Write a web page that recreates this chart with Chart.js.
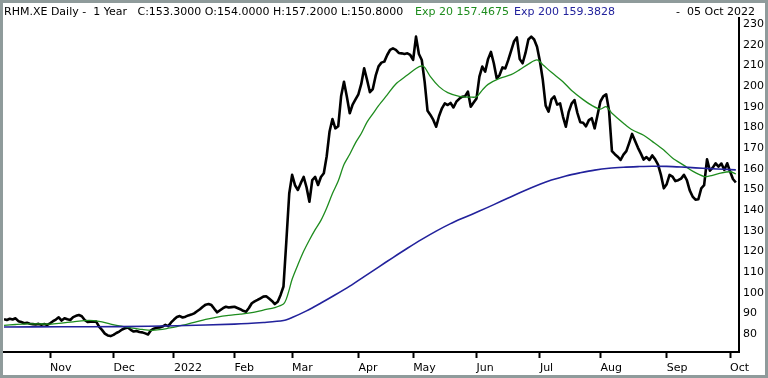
<!DOCTYPE html>
<html>
<head>
<meta charset="utf-8">
<script src="https://cdn.jsdelivr.net/npm/chart.js@4.4.0/dist/chart.umd.min.js"></script>
<style>
  html, body { margin: 0; padding: 0; background: #fff; }
</style>
</head>
<body>
<canvas id="chart" width="768" height="378"></canvas>
<script>
// daily closes, one per trading day (index 0 = first day shown)
const closes = [
  87.2, 86.8, 87.4, 87.0, 87.6, 86.2, 85.8, 85.2, 85.4, 85.0,
  84.8, 84.6, 84.9, 84.5, 84.8, 84.4, 85.2, 86.2, 87.0, 88.1,
  86.5, 87.6, 87.1, 86.8, 88.2, 88.8, 89.2, 88.6, 86.8, 85.8,
  86.0, 85.9, 86.0, 83.6, 82.0, 80.2, 79.3, 79.0, 79.6, 80.5,
  81.2, 82.2, 82.8, 83.2, 82.0, 81.2, 81.5, 81.0, 80.8, 80.3,
  79.8, 81.8, 82.6, 83.0, 83.2, 83.6, 84.4, 83.8, 85.6, 87.0,
  88.2, 88.7, 88.0, 88.4, 89.0, 89.4, 90.0, 91.0, 92.0, 93.2,
  94.2, 94.5, 94.0, 92.2, 90.5, 91.5, 92.5, 93.2, 92.8, 93.0,
  93.2, 92.6, 92.0, 91.2, 90.8, 92.6, 94.9, 95.8, 96.5, 97.3,
  98.1, 98.3, 97.2, 96.0, 94.5, 95.6, 98.9, 103.0, 125.0, 148.0,
  157.0, 152.0, 149.7, 153.0, 156.0, 151.0, 144.0, 154.5, 156.0, 152.1,
  156.0, 157.8, 166.0, 178.0, 184.0, 179.5, 180.5, 195.0, 202.0, 194.8,
  186.8, 191.0, 193.5, 196.0, 201.0, 208.6, 203.0, 197.0, 198.5, 205.0,
  209.5, 211.3, 211.8, 215.0, 217.5, 218.2, 217.5, 216.0, 215.8, 215.5,
  215.8, 215.0, 212.6, 223.9, 215.5, 212.6, 202.0, 188.0, 186.0, 183.6,
  180.3, 185.5, 189.2, 191.6, 190.8, 191.8, 189.6, 192.4, 193.8, 194.8,
  195.0, 197.3, 190.0, 192.0, 194.0, 204.5, 209.4, 206.9, 213.0, 216.5,
  211.0, 203.7, 205.3, 209.0, 208.5, 212.5, 217.0, 221.5, 223.5, 213.0,
  211.0, 216.0, 222.5, 223.9, 222.5, 219.0, 212.0, 203.0, 190.5, 187.6,
  193.5, 195.0, 191.0, 191.6, 185.2, 180.3, 187.5, 191.5, 193.2, 187.0,
  182.5, 182.2, 180.5, 183.5, 184.4, 179.5, 186.0, 192.5, 195.0, 196.0,
  188.0, 168.5, 167.0, 165.8, 164.2, 166.8, 168.5, 172.5, 176.8, 173.5,
  170.2, 167.4, 164.4, 165.6, 164.2, 166.4, 164.5, 162.0, 157.0, 150.5,
  152.5, 157.0, 156.2, 154.0, 154.4, 155.2, 157.0, 154.5, 149.5, 146.5,
  145.0, 145.2, 150.5, 152.0, 164.5, 159.0, 160.5, 162.6, 161.0, 162.5,
  159.4, 162.6, 158.6, 155.0, 153.3
];

// Exp 20, read at these trading days
const ema20Days = [0, 4, 8, 12, 16, 20, 24, 28, 31, 34, 37, 40, 44, 48, 51, 54, 57, 60, 63, 66,
  70, 74, 78, 82, 86, 90, 94, 97, 98, 99, 100, 102, 104, 106, 108, 110, 112, 114, 116, 118,
  120, 122, 124, 126, 128, 130, 133, 136, 140, 143, 145, 146, 148, 151, 154, 158, 162, 164, 166, 168,
  172, 176, 179, 182, 185, 187, 190, 194, 197, 201, 204, 207, 209, 211, 215, 218, 222, 225, 229, 232,
  236, 239, 243, 245, 248, 252, 254];
const ema20 = [84.2, 84.6, 84.9, 84.9, 84.8, 85.3, 85.9, 86.5, 86.5, 85.9, 84.8, 83.9, 83.0, 82.2, 81.8, 82.1, 82.8, 83.6, 84.6, 85.6,
  87.1, 88.2, 89.0, 89.6, 90.3, 91.6, 92.8, 94.5, 97.0, 101.5, 106.5, 113.5, 120.0, 125.5, 130.5, 135.0, 141.0, 148.0, 154.0, 162.0,
  167.0, 172.5, 177.0, 182.5, 186.5, 190.5, 195.7, 201.0, 205.3, 208.5, 209.7, 209.0, 204.5, 199.7, 196.8, 195.0, 194.6, 194.8, 198.0, 200.8,
  203.7, 205.5, 207.9, 210.6, 212.6, 210.3, 206.6, 202.1, 197.8, 193.4, 190.6, 188.8, 190.0, 186.8, 182.0, 178.8, 176.2, 173.2, 169.0, 165.2,
  161.6, 158.8, 156.2, 156.5, 157.6, 158.5, 157.5];

// Exp 200, read at these trading days
const ema200Days = [0, 20, 40, 60, 80, 90, 97, 100, 105, 110, 115, 120, 125, 130, 135, 140, 145, 150, 155, 160,
  165, 170, 175, 180, 186, 190, 195, 200, 205, 210, 215, 220, 225, 230, 235, 240, 245, 250, 254];
const ema200 = [83.4, 83.5, 83.6, 84.0, 84.8, 85.6, 86.5, 88.0, 91.2, 95.0, 99.0, 103.2, 107.8, 112.4, 117.0, 121.5, 125.8, 129.8, 133.4, 136.5,
  139.5, 142.6, 145.8, 149.0, 152.5, 154.5, 156.5, 158.0, 159.3, 160.2, 160.7, 161.0, 161.2, 161.1, 160.8, 160.4, 160.0, 159.7, 159.4];

// first trading day of each month
const monthStarts = [16, 38, 59, 80, 100, 123, 142, 164, 186, 207, 230, 252];
const monthLabels = ['Nov', 'Dec', '2022', 'Feb', 'Mar', 'Apr', 'May', 'Jun', 'Jul', 'Aug', 'Sep', 'Oct'];
const priceTicks = [80, 90, 100, 110, 120, 130, 140, 150, 160, 170, 180, 190, 200, 210, 220, 230];

const headText = 'RHM.XE Daily -  1 Year   C:153.3000 O:154.0000 H:157.2000 L:150.8000';
const ema20Text = 'Exp 20 157.4675';
const ema200Text = 'Exp 200 159.3828';
const dateText = '-  05 Oct 2022';

const FONT = '"DejaVu Sans", "Lucida Grande", sans-serif';
const GREEN = '#1e8c1e';
const NAVY = '#22229c';

// white background, grey frame and the header line
const framePlugin = {
  id: 'frame',
  beforeDraw(chart) {
    const c = chart.ctx;
    c.save();
    c.fillStyle = '#fff';
    c.fillRect(0, 0, chart.width, chart.height);
    c.restore();
  },
  afterDraw(chart) {
    const c = chart.ctx;
    c.save();
    c.strokeStyle = '#8f9b9b';
    c.lineWidth = 3;
    c.strokeRect(1.5, 1.5, chart.width - 3, chart.height - 3);
    c.font = '11px ' + FONT;
    c.textBaseline = 'alphabetic';
    c.textAlign = 'left';
    c.fillStyle = '#000';
    c.fillText(headText, 4, 15);
    c.fillStyle = GREEN;
    c.fillText(ema20Text, 415, 15);
    c.fillStyle = NAVY;
    c.fillText(ema200Text, 514, 15);
    c.fillStyle = '#000';
    c.textAlign = 'right';
    c.fillText(dateText, 755, 15);
    c.restore();
  }
};

new Chart(document.getElementById('chart'), {
  type: 'line',
  data: {
    datasets: [
      {
        label: 'Exp 200',
        data: ema200Days.map((d, k) => ({ x: d, y: ema200[k] })),
        borderColor: NAVY,
        borderWidth: 1.6,
        pointRadius: 0,
        tension: 0.3
      },
      {
        label: 'Exp 20',
        data: ema20Days.map((d, k) => ({ x: d, y: ema20[k] })),
        borderColor: GREEN,
        borderWidth: 1.3,
        pointRadius: 0,
        tension: 0.3
      },
      {
        label: 'RHM.XE',
        data: closes.map((v, i) => ({ x: i, y: v })),
        borderColor: '#000',
        borderWidth: 2.6,
        borderJoinStyle: 'round',
        pointRadius: 0,
        tension: 0
      }
    ]
  },
  options: {
    responsive: false,
    animation: false,
    devicePixelRatio: 1,
    layout: { padding: { left: 4, top: 18, right: 0, bottom: 0 } },
    plugins: {
      legend: { display: false },
      title: { display: false },
      tooltip: { enabled: false }
    },
    scales: {
      x: {
        type: 'linear',
        min: 0,
        max: 255.1,
        afterBuildTicks: (scale) => { scale.ticks = monthStarts.map(v => ({ value: v })); },
        afterFit: (scale) => { scale.height = 26; },
        grid: { display: true, drawOnChartArea: false, drawTicks: true, tickLength: 6, tickWidth: 2, tickColor: '#000' },
        border: { display: true, color: '#000', width: 2 },
        ticks: {
          autoSkip: false,
          maxRotation: 0,
          align: 'start',
          padding: 4,
          color: '#000',
          font: { family: FONT, size: 11 },
          callback: (v, i) => monthLabels[i]
        }
      },
      y: {
        position: 'right',
        min: 71.3,
        max: 232.9,
        afterBuildTicks: (scale) => { scale.ticks = priceTicks.map(v => ({ value: v })); },
        afterFit: (scale) => { scale.width = 29; },
        grid: { display: false, drawTicks: false },
        border: { display: true, color: '#000', width: 2 },
        ticks: {
          padding: 4,
          color: '#000',
          font: { family: FONT, size: 11 }
        }
      }
    }
  },
  plugins: [framePlugin]
});
</script>
</body>
</html>
